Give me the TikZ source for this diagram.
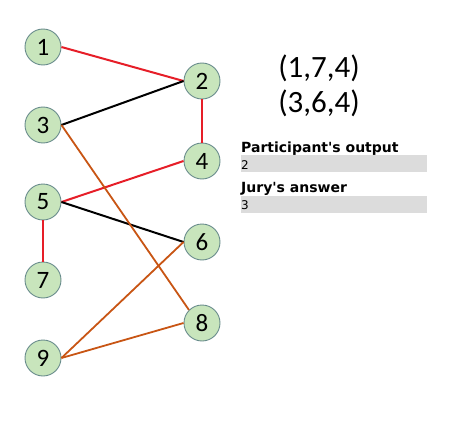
\documentclass[tikz,border=0pt]{standalone}
\usepackage{fontspec}
\setmainfont{Carlito}
\newfontfamily\vfont{DejaVu Sans}
\definecolor{nodefill}{RGB}{200,229,188}
\definecolor{nodeedge}{RGB}{105,140,140}
\definecolor{edgered}{RGB}{230,30,40}
\definecolor{edgeorange}{RGB}{200,85,20}
\definecolor{bargray}{RGB}{220,220,220}
\begin{document}
\begin{tikzpicture}[x=1pt,y=-1pt,
  vert/.style={circle,draw=nodeedge,fill=nodefill,line width=0.9pt,minimum size=36pt,inner sep=0pt,font=\fontsize{25}{25}\selectfont},
  redE/.style={draw=edgered,line width=2pt},
  blackE/.style={draw=black,line width=2pt},
  orangeE/.style={draw=edgeorange,line width=1.8pt},
  tuple/.style={font=\fontsize{31}{31}\selectfont,inner sep=0pt},
  heading/.style={font=\vfont\bfseries\fontsize{14}{14}\selectfont,anchor=base west,inner sep=0pt},
  barbox/.style={fill=bargray,minimum width=186pt,minimum height=16.7pt,inner sep=0pt,anchor=north west},
  bartext/.style={font=\vfont\fontsize{12}{12}\selectfont,anchor=base west,inner sep=0pt}]
\useasboundingbox (0,0) rectangle (474,428);
\node[vert] (n1) at (43,47) {1};
\node[vert] (n2) at (202,81) {2};
\node[vert] (n3) at (43,125) {3};
\node[vert] (n4) at (202,161) {4};
\node[vert] (n5) at (43,202) {5};
\node[vert] (n6) at (202,242) {6};
\node[vert] (n7) at (43,280) {7};
\node[vert] (n8) at (202,323) {8};
\node[vert] (n9) at (43,358) {9};
\draw[redE] (n1.east) -- (n2.west);
\draw[blackE] (n3.east) -- (n2.west);
\draw[redE] (n2.south) -- (n4.north);
\draw[redE] (n5.east) -- (n4.west);
\draw[blackE] (n5.east) -- (n6.west);
\draw[redE] (n5.south) -- (n7.north);
\draw[orangeE] (n3.east) -- (n8.north west);
\draw[orangeE] (n9.east) -- (n6.west);
\draw[orangeE] (n9.east) -- (n8.west);
\node[tuple] (t1) at (319,68) {(1,7,4)};
\node[tuple] (t2) at (319,103) {(3,6,4)};
\node[heading] (h1) at (241,152.7) {Participant's output};
\node[barbox] (b1) at (240.7,155) {};
\node[bartext] (v1) at (241,169) {2};
\node[heading] (h2) at (241,192.3) {Jury's answer};
\node[barbox] (b2) at (240.7,195.7) {};
\node[bartext] (v2) at (241,209.5) {3};
\end{tikzpicture}
\end{document}
